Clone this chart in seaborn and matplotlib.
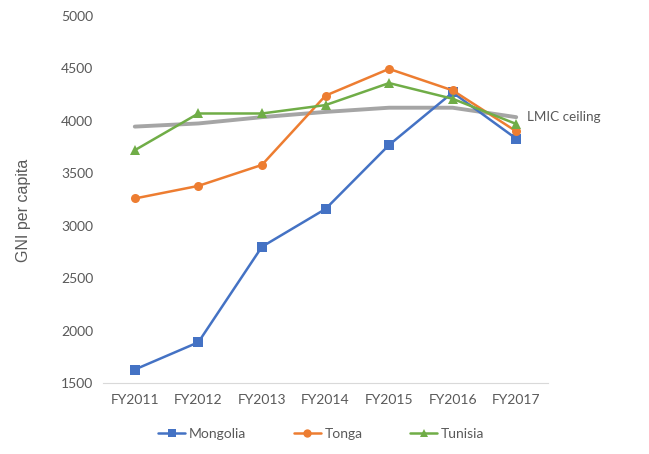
import numpy as np
import pandas as pd
import seaborn as sns
import matplotlib.pyplot as plt
from matplotlib.lines import Line2D

# --- data ---
years = ["FY2011", "FY2012", "FY2013", "FY2014", "FY2015", "FY2016", "FY2017"]
mongolia = [1630, 1890, 2800, 3160, 3770, 4270, 3830]
tonga = [3260, 3380, 3580, 4240, 4495, 4290, 3900]
tunisia = [3720, 4070, 4070, 4150, 4360, 4210, 3970]
lmic_ceiling = [3945, 3975, 4035, 4085, 4125, 4125, 4035]

countries = ["Mongolia", "Tonga", "Tunisia"]
colors = {"Mongolia": "#4472C4", "Tonga": "#ED7D31", "Tunisia": "#70AD47"}
markers = {"Mongolia": "s", "Tonga": "o", "Tunisia": "^"}

df = pd.DataFrame({
    "year": years * 3,
    "gni": mongolia + tonga + tunisia,
    "country": np.repeat(countries, len(years)),
})
df_lmic = pd.DataFrame({"year": years, "gni": lmic_ceiling})

sns.set_style("white")
plt.rcParams["font.family"] = ["Lato", "DejaVu Sans"]
text_col = "#595959"

fig = plt.figure(figsize=(6.49, 4.54), dpi=100)
ax = fig.add_axes([0.1587, 0.156, 0.6857, 0.809])

# gray ceiling line first so countries sit on top
sns.lineplot(data=df_lmic, x="year", y="gni", color="#A5A5A5", linewidth=2.8,
             sort=False, ax=ax, legend=False)

for c in countries:
    sub = df[df["country"] == c]
    sns.lineplot(data=sub, x="year", y="gni", color=colors[c], marker=markers[c],
                 markersize=6.5, markeredgewidth=0, linewidth=1.8, sort=False,
                 ax=ax, legend=False)

ax.annotate("LMIC ceiling", xy=(len(years) - 1, lmic_ceiling[-1]), xytext=(8, 0),
            textcoords="offset points", va="center", ha="left", fontsize=9.7,
            color=text_col)

ax.set_xlim(-0.5, len(years) - 0.5)
ax.set_ylim(1500, 5000)
ax.set_yticks(np.arange(1500, 5001, 500))
ax.set_xlabel("")
ax.set_ylabel("GNI per capita", fontsize=11.5, color=text_col,
              family=["Liberation Sans", "DejaVu Sans"])
ax.yaxis.set_label_coords(-0.162, 0.471)
ax.tick_params(axis="both", labelsize=10, colors=text_col, length=0)
ax.tick_params(axis="x", pad=8)
ax.tick_params(axis="y", pad=7)

sns.despine(ax=ax, left=True)
ax.spines["bottom"].set_color("#D9D9D9")

handles = [Line2D([], [], color=colors[c], marker=markers[c], markersize=6,
                  markeredgewidth=0, linewidth=1.8) for c in countries]
leg = fig.legend(handles, countries, loc="center", bbox_to_anchor=(0.495, 0.045),
                 ncol=3, frameon=False, fontsize=10, columnspacing=3.45,
                 handlelength=1.95, handletextpad=0.25)
for t in leg.get_texts():
    t.set_color(text_col)

fig.savefig("out.png", dpi=100)
